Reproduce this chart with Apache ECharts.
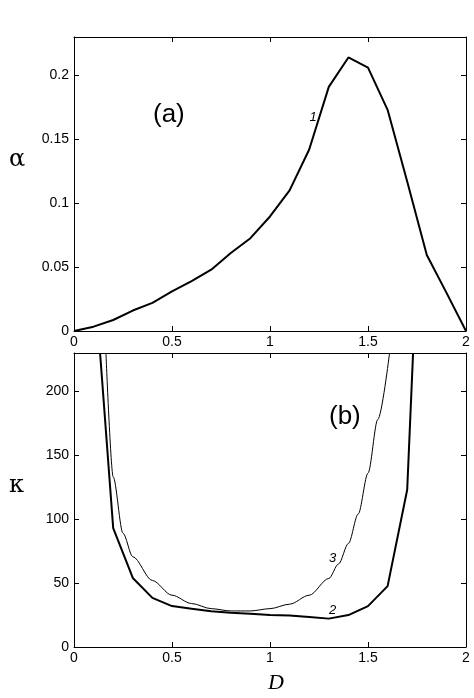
<!DOCTYPE html>
<html>
<head>
<meta charset="utf-8">
<script src="https://cdn.jsdelivr.net/npm/echarts@6/dist/echarts.min.js"></script>
<style>html,body{margin:0;padding:0;background:#fff}</style>
</head>
<body>
<div id="main" style="width:474px;height:698px;"></div>
<script type="text/javascript">
// curve 1: alpha vs D
var curve1 = [[0,0],[0.1,0.0034],[0.2,0.0086],[0.3,0.016],[0.4,0.022],[0.5,0.031],[0.6,0.039],
  [0.7,0.048],[0.8,0.061],[0.9,0.0726],[1.0,0.0896],[1.1,0.11],[1.2,0.142],[1.3,0.191],
  [1.4,0.214],[1.5,0.206],[1.6,0.173],[1.7,0.117],[1.8,0.0595],[1.9,0.03],[2.0,0]];
// curve 2: kappa vs D (thick)
var curve2 = [[0.133,230],[0.2,93],[0.3,54],[0.4,38.4],[0.5,32],[0.6,30],[0.7,28],[0.8,26.7],
  [0.9,26],[1.0,25],[1.1,24.6],[1.2,23.5],[1.3,22.2],[1.4,25],[1.5,32],[1.6,47.6],[1.7,123],[1.73,230]];
// curve 3: kappa vs D (thin, smooth)
var curve3 = [[0.163,230],[0.2,133],[0.25,89],[0.3,70.6],[0.4,52],[0.5,40.5],[0.6,34],[0.7,30],
  [0.8,28.2],[0.9,28.2],[1.0,30],[1.1,33.5],[1.2,40.5],[1.3,53.6],[1.35,65],[1.4,81],
  [1.45,104],[1.5,136],[1.55,178],[1.61,230]];

var font = 'Liberation Sans';
var lbl = {color:'#000', fontFamily:font, fontSize:14};

function xAx(grid, pos, show) {
  return {type:'value', gridIndex:grid, min:0, max:2, interval:0.5, position:pos,
    axisLine:{show:true, onZero:false, lineStyle:{color:'#000', width:1}},
    axisTick:{show:true, inside:true, length:5, lineStyle:{color:'#000'}},
    axisLabel:{show:show, margin:4, ...lbl}, splitLine:{show:false}};
}
function yAx(grid, pos, show, max, interval) {
  return {type:'value', gridIndex:grid, min:0, max:max, interval:interval, position:pos,
    axisLine:{show:true, onZero:false, lineStyle:{color:'#000', width:1}},
    axisTick:{show:true, inside:true, length:5, lineStyle:{color:'#000'}},
    axisLabel:{show:show, margin:5, showMaxLabel:false, ...lbl}, splitLine:{show:false}};
}
function tag(txt, coord) {
  return {symbol:'circle', symbolSize:1, itemStyle:{color:'rgba(0,0,0,0)'},
    data:[{coord:coord, label:{show:true, position:'inside', formatter:txt, fontStyle:'italic',
      color:'#000', fontSize:13, fontFamily:font}}]};
}

var chart = echarts.init(document.getElementById('main'));
chart.setOption({
  animation:false,
  grid:[{left:74, top:37, width:392, height:294},
        {left:74, top:353, width:392, height:294}],
  xAxis:[xAx(0,'bottom',true), xAx(0,'top',false), xAx(1,'bottom',true), xAx(1,'top',false)],
  yAxis:[yAx(0,'left',true,0.23,0.05), yAx(0,'right',false,0.23,0.05),
         yAx(1,'left',true,230,50), yAx(1,'right',false,230,50)],
  graphic:[
    {type:'text', left:153, top:102, style:{text:'(a)', font:'26px '+font, fill:'#000'}},
    {type:'text', left:329, top:404, style:{text:'(b)', font:'26px '+font, fill:'#000'}},
    {type:'text', left:9, top:148, style:{text:'α', font:'24px "DejaVu Serif"', fill:'#000'}},
    {type:'text', left:9, top:474, style:{text:'κ', font:'24px "DejaVu Serif"', fill:'#000'}},
    {type:'text', left:268, top:672, style:{text:'D', font:'italic 22px "Liberation Serif"', fill:'#000'}}
  ],
  series:[
    {type:'line', xAxisIndex:0, yAxisIndex:0, data:curve1, symbol:'none',
      lineStyle:{color:'#000', width:2}, markPoint:tag('1', [1.22,0.167])},
    {type:'line', xAxisIndex:2, yAxisIndex:2, data:curve2, symbol:'none',
      lineStyle:{color:'#000', width:2}, markPoint:tag('2', [1.32,29])},
    {type:'line', xAxisIndex:2, yAxisIndex:2, data:curve3, symbol:'none',
      smooth:0.3, smoothMonotone:'x',
      lineStyle:{color:'#000', width:1}, markPoint:tag('3', [1.32,69])}
  ]
});
</script>
</body>
</html>
